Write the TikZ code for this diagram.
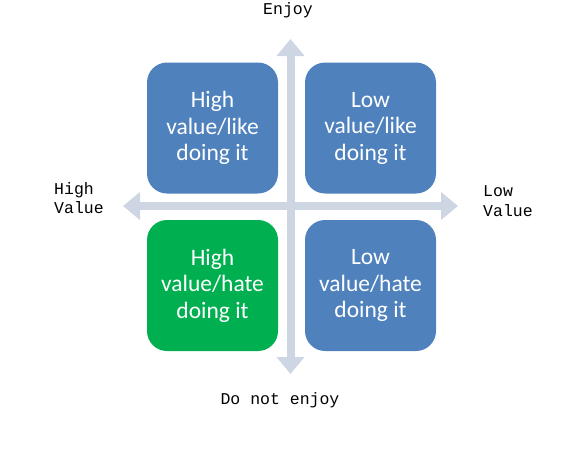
\documentclass[tikz,border=0pt]{standalone}
\usepackage{fontspec}
\setmainfont{Carlito}
\newfontfamily\labelfont{Liberation Mono}
\usetikzlibrary{arrows.meta}
\definecolor{boxblue}{RGB}{79,129,189}
\definecolor{boxgreen}{RGB}{0,176,80}
\definecolor{axisgray}{RGB}{206,214,228}
\tikzset{
  quadbox/.style={fill=boxblue, text=white, rounded corners=20pt, minimum width=131pt,
    minimum height=131pt, align=center, font=\fontsize{23.5}{26.5}\selectfont},
  axislabel/.style={font=\labelfont\fontsize{16.5}{19.5}\selectfont, align=left, inner sep=0pt},
  axisarrow/.style={draw=axisgray, line width=8pt,
    {Triangle[width=27pt,length=17pt]}-{Triangle[width=27pt,length=17pt]}}
}
\begin{document}
\begin{tikzpicture}[x=1pt,y=-1pt]
\useasboundingbox (0,0) rectangle (581,450);
%axes
\coordinate (top) at (290.5,39);
\coordinate (bottom) at (290.5,374);
\coordinate (left) at (123,206);
\coordinate (right) at (458,206);
\draw[axisarrow] (bottom) to (top);
\draw[axisarrow] (left) to (right);
%quadrants
\node[quadbox] (hilike) at (212.5,128) {High\\value/like\\doing it};
\node[quadbox] (lolike) at (370.5,128) {Low\\value/like\\doing it};
\node[quadbox, fill=boxgreen] (hihate) at (212.5,285.5) {High\\value/hate\\doing it};
\node[quadbox] (lohate) at (370.5,285.5) {Low\\value/hate\\doing it};
%labels
\node[axislabel] (enjoy) at (288,10) {Enjoy};
\node[axislabel] (notenjoy) at (280,400) {Do not enjoy};
\node[axislabel, anchor=west] (hival) at (54,198) {High\\Value};
\node[axislabel, anchor=west] (loval) at (483,201) {Low\\Value};
\end{tikzpicture}
\end{document}
